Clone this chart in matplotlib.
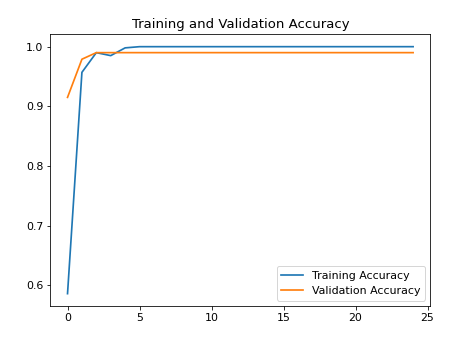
import matplotlib
matplotlib.use("Agg")
import matplotlib.pyplot as plt

epochs = list(range(25))
train_acc = [0.586, 0.957, 0.99, 0.985, 0.998] + [1.0] * 20
val_acc = [0.915, 0.979, 0.99, 0.99] + [0.99] * 21

plt.rcParams['font.size'] = 11

fig = plt.figure(figsize=(474 / 72, 345 / 72), dpi=72)
ax = fig.add_axes([0.106, 0.113, 0.802, 0.7875])
ax.plot(epochs, train_acc, label='Training Accuracy', linewidth=1.7)
ax.plot(epochs, val_acc, label='Validation Accuracy', linewidth=1.7)
ax.legend(loc='lower right')
ax.set_title('Training and Validation Accuracy')

fig.savefig('out.png', dpi=72)
